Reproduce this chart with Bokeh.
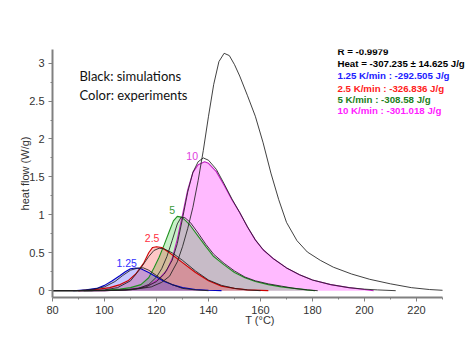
from bokeh.plotting import figure
from bokeh.models import Range1d, FixedTicker, Label
from bokeh.embed import file_html
from bokeh.resources import INLINE
from bokeh.core.properties import value

# ---- data ----
sim20_T = [80, 95, 105, 112, 118, 122, 125, 128, 130, 132, 134, 136, 138, 140, 142, 144, 146, 148, 150, 152,
           155, 158, 161, 164, 167, 170, 174, 178, 183, 188, 195, 202, 210, 218, 225, 230]
sim20_h = [0, 0.0, 0.005, 0.02, 0.05, 0.11, 0.19, 0.38, 0.58, 0.82, 1.1, 1.45, 1.85, 2.3, 2.72, 3.02, 3.13, 3.1,
           2.98, 2.83, 2.57, 2.3, 1.95, 1.55, 1.2, 0.9, 0.66, 0.51, 0.40, 0.31, 0.22, 0.15, 0.09, 0.04, 0.015, 0.005]

sim10_T = [80, 100, 110, 116, 120, 123, 126, 128, 130, 132, 134, 136, 138, 140, 143, 146, 149, 152, 155, 158,
           161, 165, 170, 175, 180, 187, 194, 200, 205, 212]
sim10_h = [0, 0, 0.01, 0.05, 0.12, 0.22, 0.40, 0.62, 0.95, 1.3, 1.56, 1.7, 1.75, 1.72, 1.6, 1.41, 1.21, 1.03,
           0.84, 0.67, 0.54, 0.42, 0.30, 0.21, 0.14, 0.08, 0.04, 0.02, 0.01, 0.0]
exp10_T = [90, 100, 108, 114, 118, 121, 124, 126, 128, 130, 132, 134, 136, 138.5, 140, 143, 146, 149, 152, 155,
           158, 161, 165, 170, 175, 180, 187, 194, 200, 203.5]
exp10_h = [0, 0.0, 0.01, 0.04, 0.09, 0.16, 0.27, 0.42, 0.68, 1.0, 1.33, 1.56, 1.66, 1.70, 1.68, 1.57, 1.39, 1.2,
           1.03, 0.84, 0.67, 0.54, 0.42, 0.30, 0.21, 0.14, 0.08, 0.04, 0.015, 0.0]

sim5_T = [80, 100, 108, 113, 117, 120, 122, 124, 126, 128, 129.5, 131, 133, 136, 139, 142, 146, 150, 154, 158,
          163, 168, 173, 178, 182]
sim5_h = [0, 0, 0.01, 0.03, 0.08, 0.18, 0.29, 0.45, 0.66, 0.88, 0.97, 0.96, 0.9, 0.76, 0.61, 0.48, 0.36, 0.26,
          0.18, 0.13, 0.09, 0.06, 0.03, 0.01, 0.0]
exp5_T = [92, 100, 106, 110, 114, 117, 119, 121, 123, 125, 126.5, 128, 129.5, 131, 133, 136, 139, 142, 146, 150,
          154, 158, 163, 168, 173, 178, 181]
exp5_h = [0, 0.005, 0.02, 0.04, 0.08, 0.17, 0.3, 0.44, 0.61, 0.79, 0.92, 0.98, 0.97, 0.93, 0.86, 0.72, 0.58, 0.45,
          0.34, 0.24, 0.17, 0.12, 0.08, 0.05, 0.03, 0.01, 0.0]

sim25_T = [80, 95, 100, 105, 110, 114, 117, 119, 121, 123, 126, 130, 135, 140, 145, 150, 155, 160]
sim25_h = [0, 0.0, 0.01, 0.04, 0.13, 0.3, 0.45, 0.53, 0.56, 0.55, 0.5, 0.4, 0.26, 0.14, 0.07, 0.03, 0.01, 0.0]
exp25_T = [90, 98, 102, 106, 109, 112, 115, 117, 118.5, 120, 122, 125, 130, 135, 140, 145, 150, 155, 163]
exp25_h = [0, 0.02, 0.04, 0.08, 0.13, 0.22, 0.36, 0.5, 0.57, 0.58, 0.57, 0.5, 0.37, 0.24, 0.13, 0.06, 0.03, 0.01, 0.0]

sim125_T = [80, 90, 96, 100, 104, 107, 110, 113, 115, 117, 120, 123, 126, 130, 135, 140]
sim125_h = [0, 0.0, 0.02, 0.05, 0.12, 0.2, 0.27, 0.3, 0.3, 0.27, 0.2, 0.13, 0.08, 0.03, 0.01, 0.0]
exp125_T = [88, 93, 97, 100, 103, 106, 108, 110, 112, 114, 117, 120, 123, 126, 130, 135, 140, 145]
exp125_h = [0, 0.01, 0.03, 0.07, 0.13, 0.2, 0.25, 0.29, 0.3, 0.29, 0.24, 0.18, 0.12, 0.08, 0.04, 0.015, 0.005, 0.0]

rate_labels = ["20", "10", "5", "2.5", "1.25"]
rate_label_T = [143.8, 133.7, 126.0, 118.3, 108.5]
rate_label_h = [3.24, 1.78, 1.06, 0.69, 0.37]
rate_label_colors = ["#333333", "#e040e0", "#3a9a3a", "#ff3040", "#3030ff"]

info_lines = ["R = -0.9979", "Heat = -307.235 \u00b1 14.625 J/g", "1.25 K/min : -292.505 J/g",
              "2.5 K/min : -326.836 J/g", "5 K/min : -308.58 J/g", "10 K/min : -301.018 J/g"]
info_colors = ["#000000", "#000000", "#2020ff", "#ff2020", "#208020", "#ff20ff"]
info_h = [3.16, 3.0, 2.84, 2.67, 2.52, 2.37]

x_major = [80, 100, 120, 140, 160, 180, 200, 220]
x_minor = [90, 110, 130, 150, 170, 190, 210, 230]
y_major = [0, 0.5, 1, 1.5, 2, 2.5, 3]
y_minor = [0.25, 0.75, 1.25, 1.75, 2.25, 2.75, 3.0]

p = figure(width=474, height=355, output_backend="svg", toolbar_location=None,
           x_range=Range1d(80, 239.6), y_range=Range1d(-0.09, 3.18),
           min_border_left=52, min_border_right=7, min_border_top=49, min_border_bottom=58)
p.outline_line_color = None
p.grid.visible = False
p.background_fill_color = "white"
p.border_fill_color = "white"

# fills
p.varea(x=exp10_T, y1=0, y2=exp10_h, fill_color="#ff00ff", fill_alpha=0.27)
p.varea(x=exp5_T, y1=0, y2=exp5_h, fill_color="#00c000", fill_alpha=0.22)
p.varea(x=exp25_T, y1=0, y2=exp25_h, fill_color="#ff0000", fill_alpha=0.22)
p.varea(x=exp125_T, y1=0, y2=exp125_h, fill_color="#0000ff", fill_alpha=0.22)

# experiment lines
p.line(exp10_T, exp10_h, line_color="#c020c0", line_width=1.1)
p.line(exp5_T, exp5_h, line_color="#209020", line_width=1.1)
p.line(exp25_T, exp25_h, line_color="#d00000", line_width=1.1)
p.line(exp125_T, exp125_h, line_color="#0000c0", line_width=1.1)

# simulation lines
for T, h in [(sim20_T, sim20_h), (sim10_T, sim10_h), (sim5_T, sim5_h), (sim25_T, sim25_h), (sim125_T, sim125_h)]:
    p.line(T, h, line_color="#202020", line_width=1, line_alpha=0.85)

p.text(x=rate_label_T, y=rate_label_h, text=rate_labels, text_color=rate_label_colors,
       text_font=value("Liberation Sans"), text_font_size="10.5px", text_align="center", text_baseline="middle")

p.add_layout(Label(x=90.4, y=2.83, text="Black: simulations", text_font="Lato", text_font_size="13px",
                   text_baseline="middle", text_color="#111111"))
p.add_layout(Label(x=90.4, y=2.58, text="Color: experiments", text_font="Lato", text_font_size="13px",
                   text_baseline="middle", text_color="#111111"))
for t, c, hh in zip(info_lines, info_colors, info_h):
    p.add_layout(Label(x=189.6, y=hh, text=t, text_color=c, text_font="Liberation Sans", text_font_size="9.7px",
                       text_font_style="bold", text_baseline="middle"))

for ax in (p.xaxis[0], p.yaxis[0]):
    ax.axis_line_color = "#808080"
    ax.axis_line_width = 2
    ax.major_tick_line_color = "#808080"
    ax.minor_tick_line_color = "#808080"
    ax.major_tick_out = 4
    ax.major_tick_in = 0
    ax.minor_tick_out = 2
    ax.minor_tick_in = 0
    ax.major_label_text_font = "Liberation Sans"
    ax.major_label_text_font_size = "11px"
    ax.major_label_text_color = "#333333"
    ax.axis_label_text_font = "Liberation Sans"
    ax.axis_label_text_font_size = "11px"
    ax.axis_label_text_font_style = "normal"
    ax.axis_label_text_color = "#333333"

p.xaxis[0].bounds = (80, 230)
p.xaxis[0].ticker = FixedTicker(ticks=x_major, minor_ticks=x_minor)
p.yaxis[0].ticker = FixedTicker(ticks=y_major, minor_ticks=y_minor)
p.xaxis[0].axis_label = "T (\u00b0C)"
p.yaxis[0].axis_label = "heat flow (W/g)"
p.xaxis[0].axis_label_standoff = -3
p.yaxis[0].axis_label_standoff = -5
p.xaxis[0].major_label_standoff = 4
p.yaxis[0].major_label_standoff = 4

open("out.html", "w").write(file_html(p, INLINE))
